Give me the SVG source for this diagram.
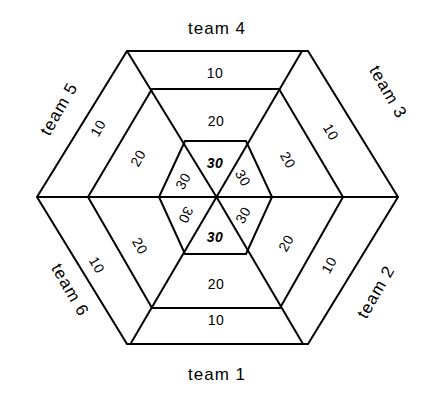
<svg xmlns="http://www.w3.org/2000/svg" width="432" height="401" viewBox="0 0 432 401">
<style>
.ln{fill:none;stroke:#000;stroke-width:2;stroke-linejoin:miter}
text{font-family:"Liberation Sans","DejaVu Sans",sans-serif;fill:#000;text-anchor:middle;dominant-baseline:central}
.tm{font-size:17px;letter-spacing:1px}
.n{font-size:14px;letter-spacing:0.5px}
.b{font-weight:bold;font-style:italic}
</style>
<rect width="432" height="401" fill="#fff"/>
<g id="connectors">
<polygon class="ln" points="127,51 308,51 398,197 308,344 127,344 37,197"/>
<polygon class="ln" points="152,89 279,89 343,197 280,308 152,308 88,197"/>
<polygon class="ln" points="185,141 246,141 272,197 246,254 185,254 159,197"/>
<line class="ln" x1="37" y1="197" x2="398" y2="197"/>
<line class="ln" x1="127" y1="51" x2="216.5" y2="197"/>
<line class="ln" x1="302" y1="51" x2="216.5" y2="197"/>
<line class="ln" x1="131" y1="343" x2="216.5" y2="197"/>
<line class="ln" x1="303" y1="344" x2="216.5" y2="197"/>
</g>
<g id="team4"><text class="tm" x="217" y="28">team 4</text></g>
<g id="team1"><text class="tm" x="217" y="374">team 1</text></g>
<g id="team5"><text class="tm" transform="translate(59,109) rotate(-60)">team 5</text></g>
<g id="team3"><text class="tm" transform="translate(388,92) rotate(60)">team 3</text></g>
<g id="team6"><text class="tm" transform="translate(70,290) rotate(60)">team 6</text></g>
<g id="team2"><text class="tm" transform="translate(376,292) rotate(-60)">team 2</text></g>
<g id="top-ring">
<text class="n" x="215" y="73">10</text>
<text class="n" x="216" y="121">20</text>
<text class="n b" x="215" y="163">30</text>
</g>
<g id="bottom-ring">
<text class="n" x="216" y="320">10</text>
<text class="n" x="216" y="284">20</text>
<text class="n b" x="215" y="237">30</text>
</g>
<g id="upper-left-ring">
<text class="n" transform="translate(98,128) rotate(-60)">10</text>
<text class="n" transform="translate(138,158) rotate(-60)">20</text>
<text class="n" transform="translate(183,181) rotate(-60)">30</text>
</g>
<g id="upper-right-ring">
<text class="n" transform="translate(331,132) rotate(60)">10</text>
<text class="n" transform="translate(288,160) rotate(60)">20</text>
<text class="n" transform="translate(243,178) rotate(60)">30</text>
</g>
<g id="lower-left-ring">
<text class="n" transform="translate(97,265) rotate(60)">10</text>
<text class="n" transform="translate(140,246) rotate(60)">20</text>
<text class="n" transform="translate(186,215) rotate(115)">30</text>
</g>
<g id="lower-right-ring">
<text class="n" transform="translate(329,265) rotate(-60)">10</text>
<text class="n" transform="translate(286,243) rotate(-60)">20</text>
<text class="n" transform="translate(243,215) rotate(-60)">30</text>
</g>
</svg>
